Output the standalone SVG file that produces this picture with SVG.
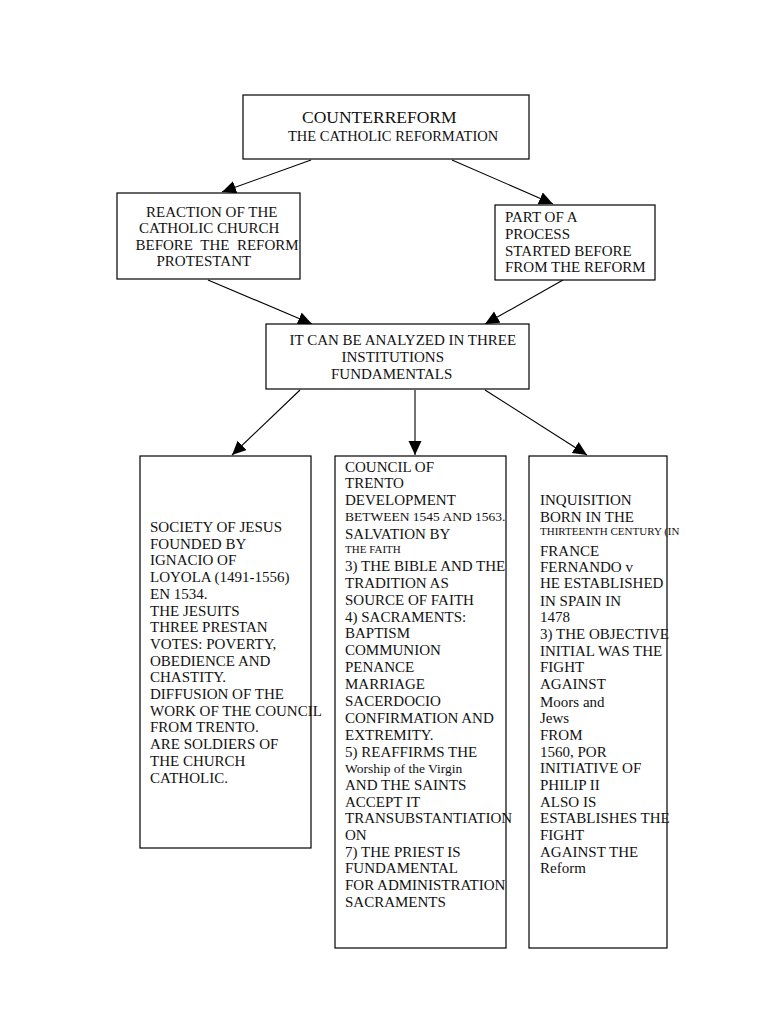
<svg xmlns="http://www.w3.org/2000/svg" width="768" height="1024" viewBox="0 0 768 1024">
<style>
.box{fill:#fff;stroke:#000;stroke-width:1.2}
.t{font-family:"Liberation Serif","Times New Roman",serif;font-size:15px;fill:#111}
.title{font-size:17.5px}
.sub{font-size:14.5px}
.s13{font-size:13.5px}
.s11{font-size:11px}
.s135{font-size:13.5px}
.conn line{stroke:#000;stroke-width:1.1}
</style>
<defs>
<marker id="arr" markerUnits="userSpaceOnUse" markerWidth="16" markerHeight="14" refX="14" refY="6.5" orient="auto">
<path d="M0,0 L14,6.5 L0,13 z" fill="#000"/>
</marker>
<clipPath id="clipR"><rect x="0" y="0" width="680" height="1024"/></clipPath>
</defs>
<rect width="768" height="1024" fill="#fff"/>

<g id="connectors" class="conn">
<line x1="311" y1="160" x2="222" y2="192" marker-end="url(#arr)"/>
<line x1="452" y1="160" x2="553" y2="204" marker-end="url(#arr)"/>
<line x1="208" y1="280" x2="312" y2="324" marker-end="url(#arr)"/>
<line x1="563" y1="280" x2="485" y2="324" marker-end="url(#arr)"/>
<line x1="300" y1="390" x2="232" y2="455" marker-end="url(#arr)"/>
<line x1="415" y1="390" x2="415" y2="455" marker-end="url(#arr)"/>
<line x1="485" y1="390" x2="587" y2="455" marker-end="url(#arr)"/>
</g>

<g id="node-counterreform">
<rect class="box" x="243" y="95" width="286" height="64"/>
<text class="t title" x="302" y="123">COUNTERREFORM</text>
<text class="t sub" x="288" y="140.5">THE CATHOLIC REFORMATION</text>
</g>

<g id="node-reaction">
<rect class="box" x="117" y="193" width="183" height="86"/>
<text class="t" x="146" y="217">REACTION OF THE</text>
<text class="t" x="139" y="233">CATHOLIC CHURCH</text>
<text class="t" x="135.5" y="249.5">BEFORE&#160; THE&#160; REFORM</text>
<text class="t" x="156.5" y="266">PROTESTANT</text>
</g>

<g id="node-process">
<rect class="box" x="495" y="205" width="160" height="75"/>
<text class="t" x="505" y="222">PART OF A</text>
<text class="t" x="505" y="238.5">PROCESS</text>
<text class="t" x="505" y="255.5">STARTED BEFORE</text>
<text class="t" x="505" y="272">FROM THE REFORM</text>
</g>

<g id="node-analyzed">
<rect class="box" x="266" y="324" width="263" height="65"/>
<text class="t" x="289.5" y="345">IT CAN BE ANALYZED IN THREE</text>
<text class="t" x="341.5" y="361.5">INSTITUTIONS</text>
<text class="t" x="331" y="378.5">FUNDAMENTALS</text>
</g>

<g id="node-jesus">
<rect class="box" x="140" y="456" width="171" height="392"/>
<text class="t" x="150">
<tspan x="150" y="532">SOCIETY OF JESUS</tspan>
<tspan x="150" y="548.7">FOUNDED BY</tspan>
<tspan x="150" y="565.4">IGNACIO OF</tspan>
<tspan x="150" y="582.1">LOYOLA (1491-1556)</tspan>
<tspan x="150" y="598.8">EN 1534.</tspan>
<tspan x="150" y="615.5">THE JESUITS</tspan>
<tspan x="150" y="632.2">THREE PRESTAN</tspan>
<tspan x="150" y="648.9">VOTES: POVERTY,</tspan>
<tspan x="150" y="665.6">OBEDIENCE AND</tspan>
<tspan x="150" y="682.3">CHASTITY.</tspan>
<tspan x="150" y="699">DIFFUSION OF THE</tspan>
<tspan x="150" y="715.7">WORK OF THE COUNCIL</tspan>
<tspan x="150" y="732.4">FROM TRENTO.</tspan>
<tspan x="150" y="749.1">ARE SOLDIERS OF</tspan>
<tspan x="150" y="765.8">THE CHURCH</tspan>
<tspan x="150" y="782.5">CATHOLIC.</tspan>
</text>
</g>

<g id="node-trento">
<rect class="box" x="335" y="456" width="171" height="492"/>
<text class="t" x="345" y="471.5">COUNCIL OF</text>
<text class="t" x="345" y="488">TRENTO</text>
<text class="t" x="345" y="505">DEVELOPMENT</text>
<text class="t s13" x="345" y="521">BETWEEN 1545 AND 1563.</text>
<text class="t" x="345" y="538.5">SALVATION BY</text>
<text class="t s11" x="345" y="552.5">THE FAITH</text>
<text class="t" x="345" y="571">3) THE BIBLE AND THE</text>
<text class="t" x="345" y="587.5">TRADITION AS</text>
<text class="t" x="345" y="604.5">SOURCE OF FAITH</text>
<text class="t" x="345" y="621.5">4) SACRAMENTS:</text>
<text class="t" x="345" y="638.3">BAPTISM</text>
<text class="t" x="345" y="655">COMMUNION</text>
<text class="t" x="345" y="672">PENANCE</text>
<text class="t" x="345" y="689">MARRIAGE</text>
<text class="t" x="345" y="706">SACERDOCIO</text>
<text class="t" x="345" y="723">CONFIRMATION AND</text>
<text class="t" x="345" y="740">EXTREMITY.</text>
<text class="t" x="345" y="756.7">5) REAFFIRMS THE</text>
<text class="t s135" x="345" y="772.7">Worship of the Virgin</text>
<text class="t" x="345" y="790">AND THE SAINTS</text>
<text class="t" x="345" y="806.7">ACCEPT IT</text>
<text class="t" x="345" y="823.3">TRANSUBSTANTIATION</text>
<text class="t" x="345" y="840">ON</text>
<text class="t" x="345" y="856.7">7) THE PRIEST IS</text>
<text class="t" x="345" y="873.3">FUNDAMENTAL</text>
<text class="t" x="345" y="890">FOR ADMINISTRATION</text>
<text class="t" x="345" y="906.7">SACRAMENTS</text>
</g>

<g id="node-inquisition">
<rect class="box" x="529" y="456" width="138" height="492"/>
<text class="t" x="540" y="505">INQUISITION</text>
<text class="t" x="540" y="522">BORN IN THE</text>
<text class="t s11" x="540" y="534.5" clip-path="url(#clipR)">THIRTEENTH CENTURY (IN</text>
<text class="t" x="540" y="555.5">FRANCE</text>
<text class="t" x="540" y="571.7">FERNANDO v</text>
<text class="t" x="540" y="588.3">HE ESTABLISHED</text>
<text class="t" x="540" y="605.5">IN SPAIN IN</text>
<text class="t" x="540" y="622.3">1478</text>
<text class="t" x="540" y="639">3) THE OBJECTIVE</text>
<text class="t" x="540" y="655.7">INITIAL WAS THE</text>
<text class="t" x="540" y="672.3">FIGHT</text>
<text class="t" x="540" y="689">AGAINST</text>
<text class="t" x="540" y="706.7">Moors and</text>
<text class="t" x="540" y="722.7">Jews</text>
<text class="t" x="540" y="740">FROM</text>
<text class="t" x="540" y="756.7">1560, POR</text>
<text class="t" x="540" y="773.3">INITIATIVE OF</text>
<text class="t" x="540" y="790">PHILIP II</text>
<text class="t" x="540" y="806.7">ALSO IS</text>
<text class="t" x="540" y="823.3">ESTABLISHES THE</text>
<text class="t" x="540" y="840">FIGHT</text>
<text class="t" x="540" y="856.7">AGAINST THE</text>
<text class="t" x="540" y="873.3">Reform</text>
</g>
</svg>
